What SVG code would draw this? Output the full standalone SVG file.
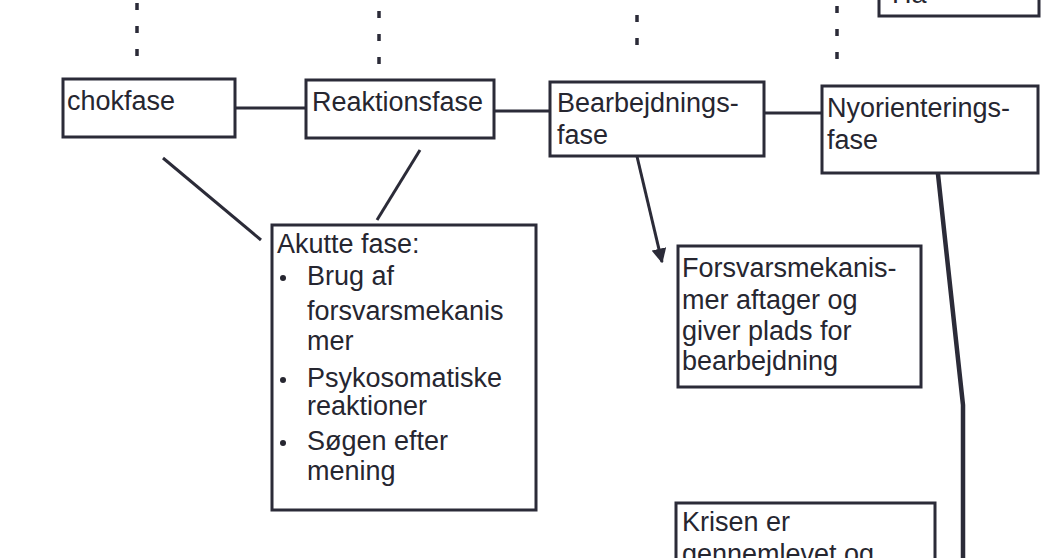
<svg xmlns="http://www.w3.org/2000/svg" width="1064" height="558" viewBox="0 0 1064 558">
<style>
.box{fill:#fff;stroke:#2b2b38;stroke-width:3}
.t{font-family:"Liberation Sans",Arial,sans-serif;font-size:27px;fill:#262630}
.c{stroke:#2b2b38;stroke-width:3;fill:none}
.d{stroke:#2b2b38;stroke-width:3.5;fill:none;stroke-dasharray:7 16}
</style>
<defs>
<marker id="ah" viewBox="0 0 10 10" refX="9" refY="5" markerWidth="5" markerHeight="5" orient="auto" markerUnits="strokeWidth">
<path d="M0,0 L10,5 L0,10 z" fill="#2b2b38"/>
</marker>
</defs>
<rect width="1064" height="558" fill="#fff"/>
<g id="connectors">
<line class="d" x1="137" y1="3" x2="137" y2="58"/>
<line class="d" x1="379" y1="11" x2="379" y2="64"/>
<line class="d" x1="637" y1="-8" x2="637" y2="47"/>
<line class="d" x1="837" y1="6" x2="837" y2="61"/>
<line class="c" x1="235" y1="108" x2="306" y2="108"/>
<line class="c" x1="494" y1="111" x2="550" y2="111"/>
<line class="c" x1="764" y1="113" x2="822" y2="113"/>
<line class="c" x1="163" y1="158" x2="261" y2="240"/>
<line class="c" x1="420" y1="150" x2="377" y2="220"/>
<line class="c" x1="635" y1="148" x2="662" y2="262" marker-end="url(#ah)"/>
<polyline points="937,165 963,405 963,558" fill="none" stroke="#2b2b38" stroke-width="4.5" stroke-linejoin="round"/>
</g>
<g id="node-ha">
<rect class="box" x="879" y="-10" width="160" height="26"/>
<text class="t" x="892" y="3">Ha</text>
</g>
<g id="node-chokfase">
<rect class="box" x="63" y="79" width="172" height="58"/>
<text class="t" x="67" y="110">chokfase</text>
</g>
<g id="node-reaktionsfase">
<rect class="box" x="306" y="80" width="188" height="58"/>
<text class="t" x="312" y="111">Reaktionsfase</text>
</g>
<g id="node-bearbejdningsfase">
<rect class="box" x="550" y="82" width="214" height="74"/>
<text class="t" x="557" y="112">Bearbejdnings-</text>
<text class="t" x="557" y="144">fase</text>
</g>
<g id="node-nyorienteringsfase">
<rect class="box" x="822" y="86" width="216" height="87"/>
<text class="t" x="827" y="117">Nyorienterings-</text>
<text class="t" x="827" y="149">fase</text>
</g>
<g id="node-akutte">
<rect class="box" x="272" y="225" width="264" height="285"/>
<text class="t" x="277" y="253">Akutte fase:</text>
<circle cx="283" cy="278" r="3" fill="#262630"/>
<text class="t" x="307" y="285">Brug af</text>
<text class="t" x="307" y="320">forsvarsmekanis</text>
<text class="t" x="307" y="350">mer</text>
<circle cx="283" cy="380" r="3" fill="#262630"/>
<text class="t" x="307" y="387">Psykosomatiske</text>
<text class="t" x="307" y="415">reaktioner</text>
<circle cx="283" cy="443" r="3" fill="#262630"/>
<text class="t" x="307" y="450">Søgen efter</text>
<text class="t" x="307" y="480">mening</text>
</g>
<g id="node-forsvar">
<rect class="box" x="678" y="246" width="243" height="141"/>
<text class="t" x="682" y="277">Forsvarsmekanis-</text>
<text class="t" x="682" y="309">mer aftager og</text>
<text class="t" x="682" y="340">giver plads for</text>
<text class="t" x="682" y="370">bearbejdning</text>
</g>
<g id="node-krisen">
<rect class="box" x="676" y="503" width="259" height="70"/>
<text class="t" x="682" y="531">Krisen er</text>
<text class="t" x="682" y="563">gennemlevet og</text>
</g>
</svg>
